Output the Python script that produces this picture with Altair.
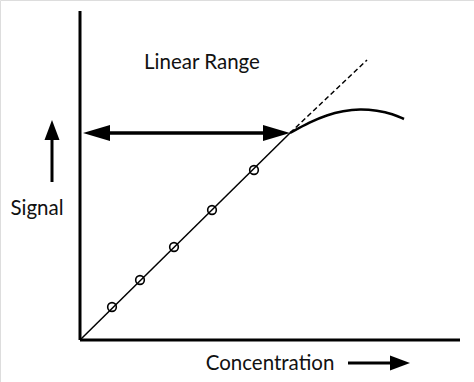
import altair as alt
import pandas as pd

# Diagram coordinates: concentration (x) and signal (y), origin at axes corner
line_x = [0, 210]
line_y = [0, 207]
dash_x = [210, 287]
dash_y = [207, 280]
curve_x = [210, 230, 247, 263, 280, 297, 313, 324]
curve_y = [207, 218, 225, 229, 231, 229.5, 226, 221]
pts_x = [32, 60, 94, 132, 174]
pts_y = [33, 60, 93, 130, 170]

axis_x_end = 380
axis_y_end = 329

range_y = 207
range_x0 = 16
range_x1 = 197
range_left_head = 16.5
range_right_head = 196.5

sig_arrow_x = -28
sig_shaft = [158, 200]
sig_head_y = 210

conc_arrow_y = -23
conc_shaft = [268, 310]
conc_head_x = 320

labels = ["Linear Range", "Signal", "Concentration"]
label_x = [122, -43, 190]
label_y = [271, 125, -30]

xs = alt.Scale(domain=[-80, 394], nice=False, zero=False)
ys = alt.Scale(domain=[-42, 340], nice=False, zero=False)

def X(f="x"):
    return alt.X(f"{f}:Q", scale=xs, axis=None)

def Y(f="y"):
    return alt.Y(f"{f}:Q", scale=ys, axis=None)

black = "#000000"

# axes
axes_df = pd.DataFrame({"x": [0, 0], "y": [0, 0], "x2": [axis_x_end, 0], "y2": [0, axis_y_end]})
axes = alt.Chart(axes_df).mark_rule(color=black, strokeWidth=3).encode(
    x=X(), y=Y(), x2="x2:Q", y2="y2:Q")

lin = alt.Chart(pd.DataFrame({"x": line_x, "y": line_y})).mark_line(
    color=black, strokeWidth=1.5).encode(x=X(), y=Y())
dash = alt.Chart(pd.DataFrame({"x": dash_x, "y": dash_y})).mark_line(
    color=black, strokeWidth=1.5, strokeDash=[5, 3]).encode(x=X(), y=Y())
curve = alt.Chart(pd.DataFrame({"x": curve_x, "y": curve_y})).mark_line(
    color=black, strokeWidth=2.5, interpolate="basis").encode(x=X(), y=Y())
pts = alt.Chart(pd.DataFrame({"x": pts_x, "y": pts_y})).mark_point(
    shape="circle", filled=False, color=black, strokeWidth=1.6, size=75, opacity=1).encode(x=X(), y=Y())

# linear range double arrow
shaft = alt.Chart(pd.DataFrame({"x": [range_x0, range_x1], "y": [range_y, range_y]})).mark_line(
    color=black, strokeWidth=3.5).encode(x=X(), y=Y())
head_l = alt.Chart(pd.DataFrame({"x": [range_left_head], "y": [range_y]})).mark_point(
    shape="M-1,0 L1,-0.6 L1,0.6 Z", filled=True, color=black, size=729, opacity=1).encode(x=X(), y=Y())
head_r = alt.Chart(pd.DataFrame({"x": [range_right_head], "y": [range_y]})).mark_point(
    shape="M1,0 L-1,-0.6 L-1,0.6 Z", filled=True, color=black, size=729, opacity=1).encode(x=X(), y=Y())

# signal arrow
sig_shaft_c = alt.Chart(pd.DataFrame({"x": [sig_arrow_x] * 2, "y": sig_shaft})).mark_line(
    color=black, strokeWidth=3).encode(x=X(), y=Y())
sig_head = alt.Chart(pd.DataFrame({"x": [sig_arrow_x], "y": [sig_head_y]})).mark_point(
    shape="M0,-1 L-0.75,1 L0.75,1 Z", filled=True, color=black, size=400, opacity=1).encode(x=X(), y=Y())

# concentration arrow
conc_shaft_c = alt.Chart(pd.DataFrame({"x": conc_shaft, "y": [conc_arrow_y] * 2})).mark_line(
    color=black, strokeWidth=3).encode(x=X(), y=Y())
conc_head = alt.Chart(pd.DataFrame({"x": [conc_head_x], "y": [conc_arrow_y]})).mark_point(
    shape="M1,0 L-1,-0.75 L-1,0.75 Z", filled=True, color=black, size=400, opacity=1).encode(x=X(), y=Y())

text = alt.Chart(pd.DataFrame({"x": label_x, "y": label_y, "t": labels})).mark_text(
    font="Lato", fontSize=20.5, color="#111111", align="center", baseline="alphabetic").encode(
    x=X(), y=Y(), text="t:N")

chart = alt.layer(
    axes, lin, dash, curve, pts, shaft, head_l, head_r,
    sig_shaft_c, sig_head, conc_shaft_c, conc_head, text
).properties(
    width=474, height=382, padding=0, autosize=alt.AutoSizeParams(type="none")
).configure_view(stroke=None).configure(background="white")

chart.save("out.html", embed_options={"renderer": "svg", "actions": False})
